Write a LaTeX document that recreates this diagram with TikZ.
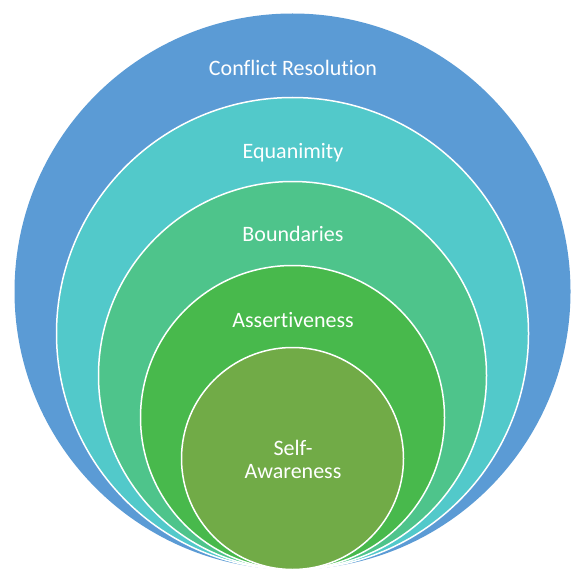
\documentclass[tikz,border=0pt]{standalone}
\usepackage{fontspec}
\setmainfont[Ligatures=NoCommon,RawFeature={-liga;-dlig;-clig}]{Carlito}
\definecolor{c1}{HTML}{5B9BD5}
\definecolor{c2}{HTML}{52C9CA}
\definecolor{c3}{HTML}{4EC48B}
\definecolor{c4}{HTML}{48B94C}
\definecolor{c5}{HTML}{71AB47}
\begin{document}
\begin{tikzpicture}[x=1pt,y=-1pt,
  ring/.style={draw=white,line width=1.5pt},
  lbl/.style={text=white,font=\fontsize{22}{24}\selectfont,anchor=base,inner sep=0pt}]
\useasboundingbox (0,0) rectangle (585,580);
\fill[white] (0,0) rectangle (585,580);
\fill[c1] (292.5,291.5) circle (278);
\draw[ring,fill=c2] (292.5,333.5) circle (236);
\draw[ring,fill=c3] (292.5,375.5) circle (194);
\draw[ring,fill=c4] (292.5,417.5) circle (152);
\draw[ring,fill=c5] (292.5,458.5) circle (111);
\node[lbl] (t1) at (293,76) {Conflict Resolution};
\node[lbl] (t2) at (293,158) {Equanimity};
\node[lbl] (t3) at (293,241) {Boundaries};
\node[lbl] (t4) at (293,327) {Assertiveness};
\node[lbl] (t5) at (293,455) {Self-};
\node[lbl] (t6) at (293,478) {Awareness};
\end{tikzpicture}
\end{document}
